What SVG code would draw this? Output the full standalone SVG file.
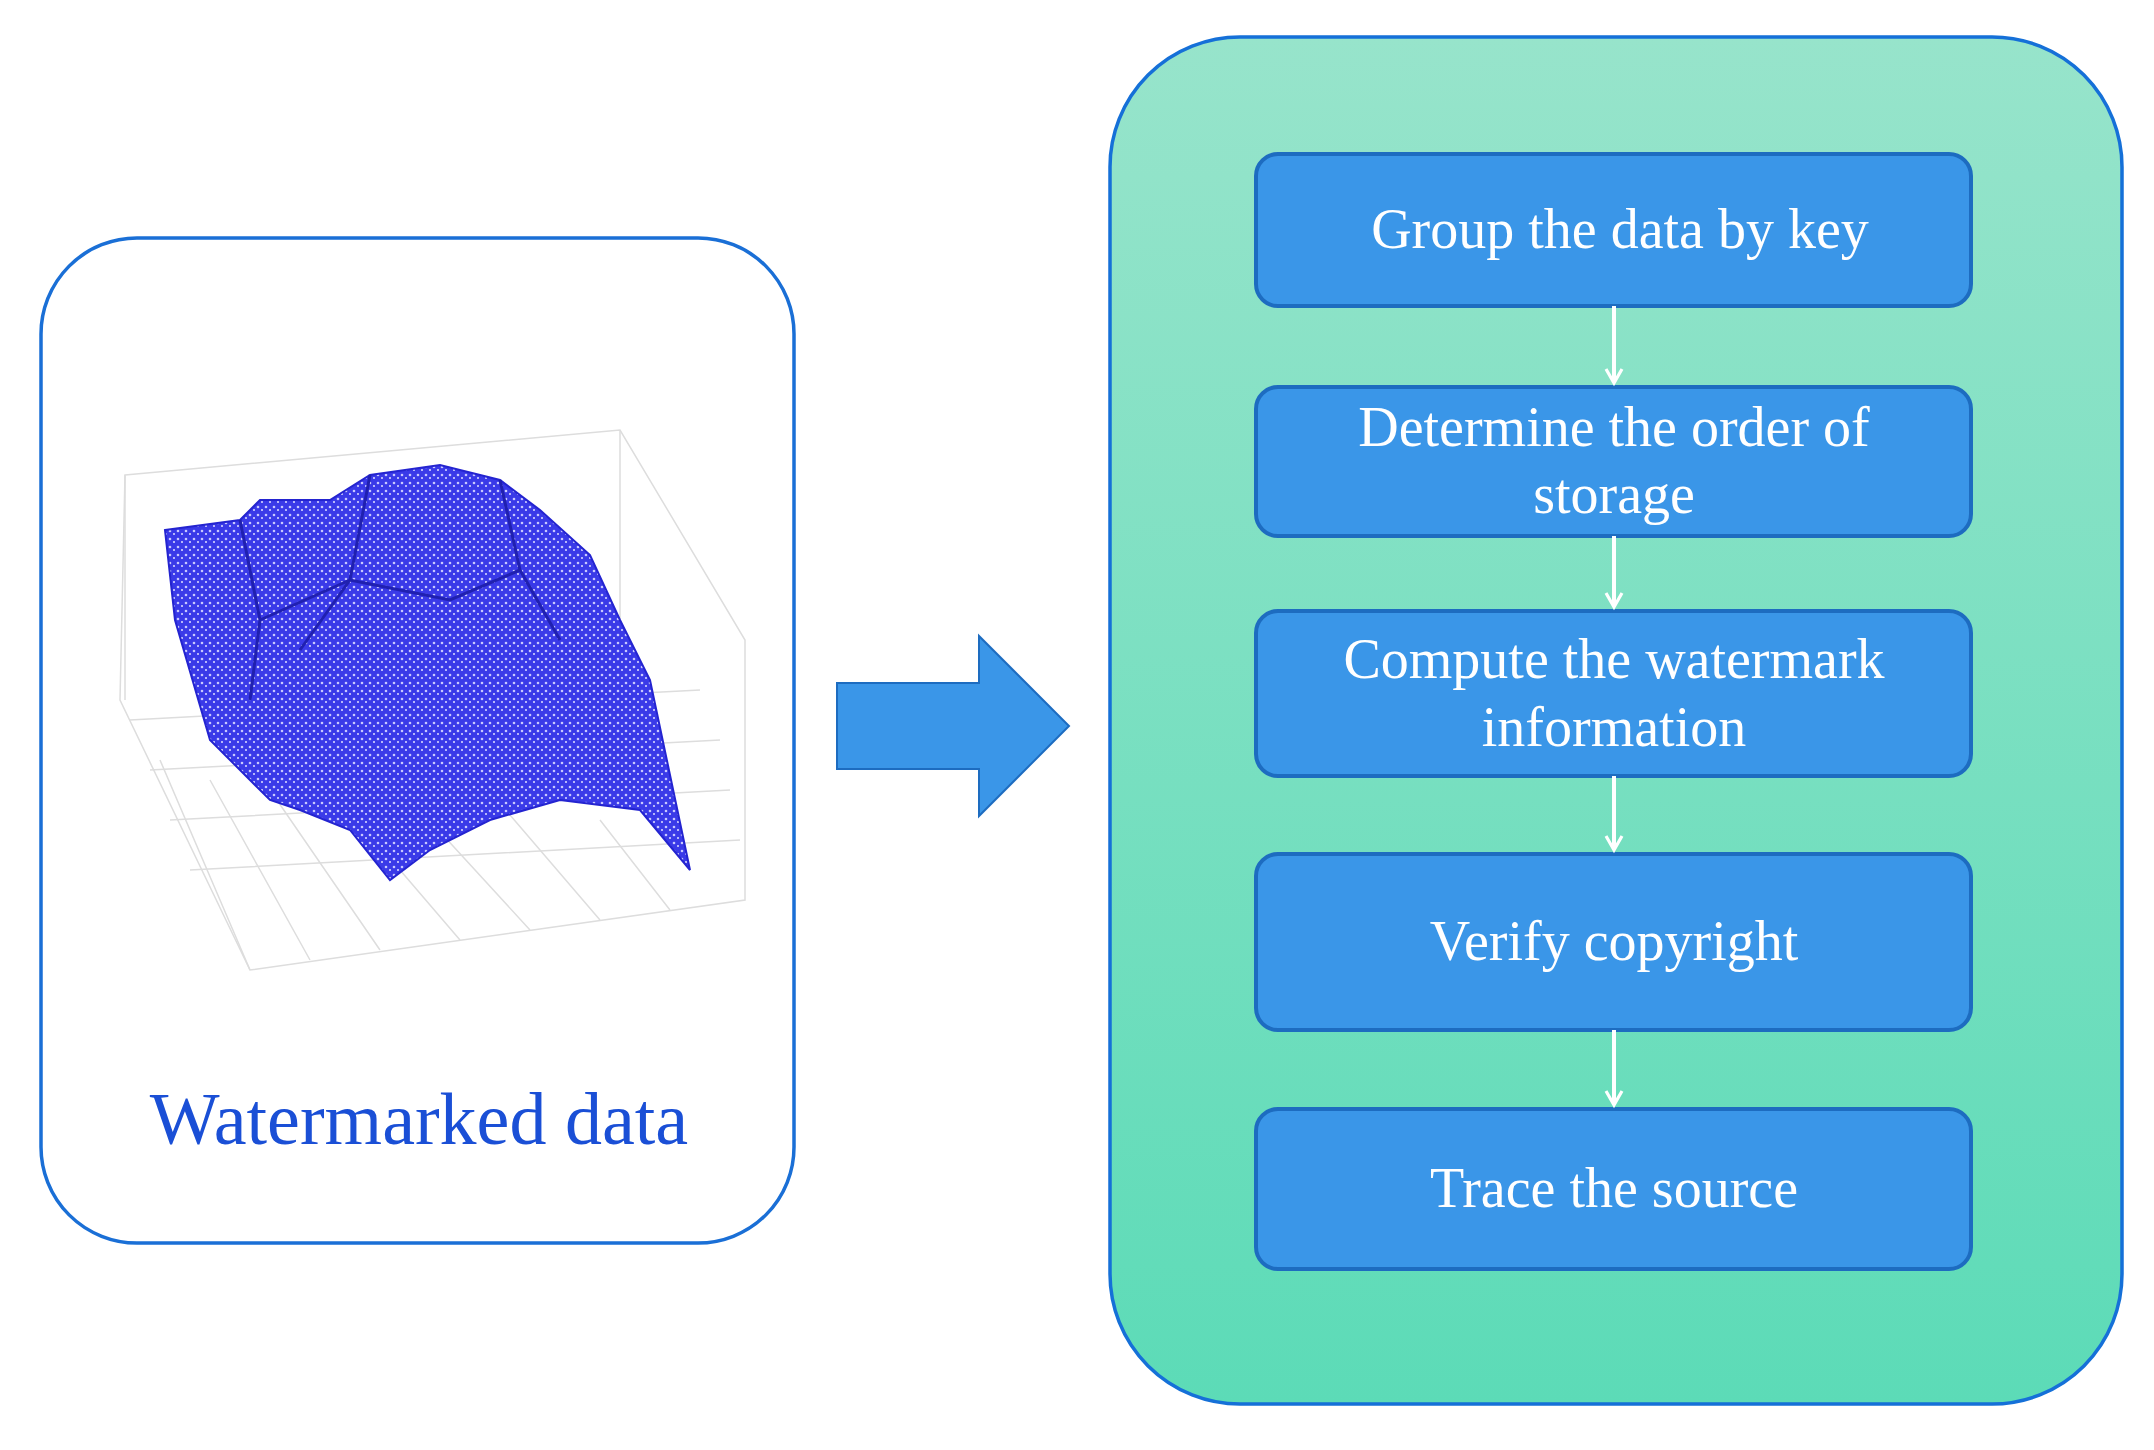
<svg xmlns="http://www.w3.org/2000/svg" width="2154" height="1450" viewBox="0 0 2154 1450">
<defs>
<linearGradient id="g" x1="0" y1="0" x2="0" y2="1"><stop offset="0" stop-color="#97e4cb"/><stop offset="1" stop-color="#5cdbb7"/></linearGradient>
<marker id="ah" viewBox="0 0 10 10" refX="8" refY="5" markerWidth="5" markerHeight="5" orient="auto"><path d="M1,1 L8,5 L1,9" fill="none" stroke="#fff" stroke-width="1.6"/></marker>
<pattern id="dots" width="8" height="8" patternUnits="userSpaceOnUse"><rect width="8" height="8" fill="#3a3ae8"/><circle cx="2" cy="3" r="1.3" fill="#c8c8ff"/><circle cx="6" cy="6" r="1" fill="#e0e0ff"/></pattern>
</defs>
<style>
.step{fill:#3a96e8;stroke:#1d6cc0;stroke-width:4}
.t{font-family:"Liberation Serif",serif;font-size:56px;fill:#fff;text-anchor:middle}
.c{stroke:#fff;stroke-width:4;fill:none;marker-end:url(#ah)}
.grid{stroke:#ddd;stroke-width:1.5;fill:none}
</style>
<rect width="2154" height="1450" fill="#fff"/>
<g id="data">
<rect x="41" y="238" width="753" height="1005" rx="96" fill="#fff" stroke="#1a6fd6" stroke-width="3.5"/>
<g class="grid">
<path d="M125,475 L620,430 L745,640 L745,900 L250,970 L120,700 Z"/>
<path d="M160,760 L250,970 M210,780 L310,960 M270,790 L380,950 M340,800 L460,940 M420,810 L530,930 M510,815 L600,920 M600,820 L670,910"/>
<path d="M130,720 L700,690 M150,770 L720,740 M170,820 L730,790 M190,870 L740,840"/>
<path d="M125,475 L125,700 M620,430 L620,650"/>
</g>
<path d="M165,530 L240,520 L260,500 L330,500 L370,475 L440,465 L500,480 L540,510 L590,555 L620,620 L650,680 L690,870 L640,810 L560,800 L490,820 L430,850 L390,880 L350,830 L300,810 L270,800 L210,740 L175,620 Z" fill="url(#dots)" stroke="#2424d0" stroke-width="2"/>
<path d="M240,520 L260,620 L250,700 M370,475 L350,580 L300,650 M500,480 L520,570 L560,640 M260,620 L350,580 L450,600 L520,570" stroke="#2020b0" stroke-width="3" fill="none"/>
<text x="419" y="1144" font-family="Liberation Serif,serif" font-size="74" fill="#1a4fd6" text-anchor="middle">Watermarked data</text>
</g>
<g id="bigarrow"><path d="M837,683 L979,683 L979,636 L1069,726 L979,816 L979,769 L837,769 Z" fill="#3a96e8" stroke="#1d6cc0" stroke-width="2"/></g>
<g id="process">
<rect x="1110" y="37" width="1012" height="1367" rx="130" fill="url(#g)" stroke="#1570d8" stroke-width="3.5"/>
</g>
<g id="s1"><rect class="step" x="1256" y="154" width="715" height="152" rx="22"/><text class="t" x="1620" y="248">Group the data by key</text></g>
<g id="s2"><rect class="step" x="1256" y="387" width="715" height="149" rx="22"/><text class="t" x="1614" y="446">Determine the order of</text><text class="t" x="1614" y="513">storage</text></g>
<g id="s3"><rect class="step" x="1256" y="611" width="715" height="165" rx="22"/><text class="t" x="1614" y="678">Compute the watermark</text><text class="t" x="1614" y="746">information</text></g>
<g id="s4"><rect class="step" x="1256" y="854" width="715" height="176" rx="22"/><text class="t" x="1614" y="960">Verify copyright</text></g>
<g id="s5"><rect class="step" x="1256" y="1109" width="715" height="160" rx="22"/><text class="t" x="1614" y="1207">Trace the source</text></g>
<g id="connectors">
<path class="c" d="M1614,306 V383"/>
<path class="c" d="M1614,536 V607"/>
<path class="c" d="M1614,776 V850"/>
<path class="c" d="M1614,1030 V1105"/>
</g>
</svg>
